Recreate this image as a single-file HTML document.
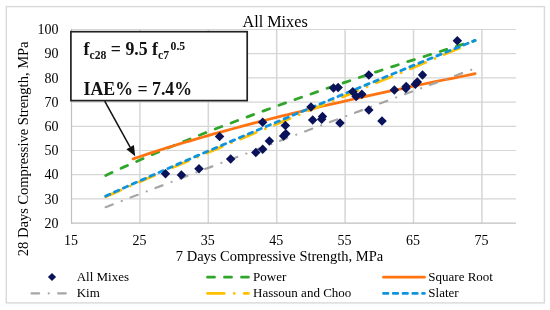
<!DOCTYPE html>
<html><head><meta charset="utf-8"><title>All Mixes</title>
<style>
html,body{margin:0;padding:0;background:#fff;}
body{width:550px;height:310px;overflow:hidden;}
svg{display:block;font-family:"Liberation Serif","Times New Roman",serif;}
</style></head><body>
<svg width="550" height="310" viewBox="0 0 550 310">
<rect x="0" y="0" width="550" height="310" fill="#ffffff"/>
<rect x="6.3" y="6.6" width="538.1" height="296.3" fill="#ffffff" stroke="#d9d9d9" stroke-width="1.4"/>

<g stroke="#d6d6d6" stroke-width="1.2" fill="none">
<line x1="71.5" y1="198.9" x2="516.0" y2="198.9"/>
<line x1="71.5" y1="174.7" x2="516.0" y2="174.7"/>
<line x1="71.5" y1="150.5" x2="516.0" y2="150.5"/>
<line x1="71.5" y1="126.3" x2="516.0" y2="126.3"/>
<line x1="71.5" y1="102.1" x2="516.0" y2="102.1"/>
<line x1="71.5" y1="77.9" x2="516.0" y2="77.9"/>
<line x1="71.5" y1="53.7" x2="516.0" y2="53.7"/>
<line x1="71.5" y1="29.5" x2="516.0" y2="29.5"/>
<line stroke-width="1.5" x1="139.9" y1="29.5" x2="139.9" y2="223.1"/>
<line stroke-width="1.5" x1="208.3" y1="29.5" x2="208.3" y2="223.1"/>
<line stroke-width="1.5" x1="276.7" y1="29.5" x2="276.7" y2="223.1"/>
<line stroke-width="1.5" x1="345.1" y1="29.5" x2="345.1" y2="223.1"/>
<line stroke-width="1.5" x1="413.5" y1="29.5" x2="413.5" y2="223.1"/>
<line stroke-width="1.5" x1="481.9" y1="29.5" x2="481.9" y2="223.1"/>
</g>
<g stroke="#bfbfbf" stroke-width="1.2" fill="none">
<line x1="71.5" y1="223.1" x2="516.0" y2="223.1"/>
<line x1="71.5" y1="28.9" x2="71.5" y2="223.7"/>
</g>
<g font-size="14.5px" fill="#000">
<text x="58.5" y="227.7" text-anchor="end" font-size="14px">20</text>
<text x="58.5" y="203.5" text-anchor="end" font-size="14px">30</text>
<text x="58.5" y="179.3" text-anchor="end" font-size="14px">40</text>
<text x="58.5" y="155.1" text-anchor="end" font-size="14px">50</text>
<text x="58.5" y="130.9" text-anchor="end" font-size="14px">60</text>
<text x="58.5" y="106.7" text-anchor="end" font-size="14px">70</text>
<text x="58.5" y="82.5" text-anchor="end" font-size="14px">80</text>
<text x="58.5" y="58.3" text-anchor="end" font-size="14px">90</text>
<text x="58.5" y="34.1" text-anchor="end" font-size="14px">100</text>
<text x="71.0" y="244.7" text-anchor="middle" font-size="14px">15</text>
<text x="139.4" y="244.7" text-anchor="middle" font-size="14px">25</text>
<text x="207.8" y="244.7" text-anchor="middle" font-size="14px">35</text>
<text x="276.2" y="244.7" text-anchor="middle" font-size="14px">45</text>
<text x="344.6" y="244.7" text-anchor="middle" font-size="14px">55</text>
<text x="413.0" y="244.7" text-anchor="middle" font-size="14px">65</text>
<text x="481.4" y="244.7" text-anchor="middle" font-size="14px">75</text>
<text x="279.5" y="261.3" text-anchor="middle">7 Days Compressive Strength, MPa</text>
<text transform="translate(28.2,148.8) rotate(-90)" text-anchor="middle">28 Days Compressive Strength, MPa</text>
</g>
<text x="275.1" y="26.8" font-size="16.2px" text-anchor="middle" fill="#000">All Mixes</text>
<g fill="none" stroke-width="2.8" stroke-linejoin="round" stroke-linecap="round">
<polyline stroke="#2fa62a" stroke-dasharray="7.0 10.0" points="105.7,175.5 111.9,172.6 118.0,169.7 124.2,166.9 130.3,164.2 136.5,161.5 142.6,158.8 148.8,156.1 154.9,153.5 161.1,150.9 167.3,148.3 173.4,145.7 179.6,143.2 185.7,140.7 191.9,138.2 198.0,135.8 204.2,133.3 210.4,130.9 216.5,128.5 222.7,126.2 228.8,123.8 235.0,121.5 241.1,119.2 247.3,116.9 253.4,114.6 259.6,112.3 265.8,110.1 271.9,107.8 278.1,105.6 284.2,103.4 290.4,101.2 296.5,99.0 302.7,96.9 308.8,94.7 315.0,92.6 321.2,90.4 327.3,88.3 333.5,86.2 339.6,84.1 345.8,82.1 351.9,80.0 358.1,77.9 364.3,75.9 370.4,73.8 376.6,71.8 382.7,69.8 388.9,67.8 395.0,65.8 401.2,63.8 407.3,61.8 413.5,59.9 419.7,57.9 425.8,56.0 432.0,54.0 438.1,52.1 444.3,50.2 450.4,48.2 456.6,46.3 462.7,44.4 468.9,42.5 475.1,40.7"/>
<polyline stroke="#ff7410" points="133.1,158.9 138.8,157.0 144.5,155.1 150.2,153.2 155.9,151.3 161.6,149.5 167.3,147.7 173.0,146.0 178.7,144.2 184.4,142.5 190.1,140.8 195.8,139.1 201.5,137.5 207.2,135.8 212.9,134.2 218.6,132.6 224.3,131.1 230.0,129.5 235.7,128.0 241.4,126.4 247.1,124.9 252.8,123.4 258.5,121.9 264.2,120.5 269.9,119.0 275.6,117.6 281.3,116.2 287.0,114.8 292.7,113.4 298.4,112.0 304.1,110.6 309.8,109.2 315.5,107.9 321.2,106.5 326.9,105.2 332.6,103.9 338.3,102.6 344.0,101.3 349.7,100.0 355.4,98.7 361.1,97.4 366.8,96.2 372.5,94.9 378.2,93.7 383.9,92.4 389.6,91.2 395.3,90.0 401.0,88.8 406.7,87.6 412.4,86.4 418.1,85.2 423.8,84.0 429.5,82.9 435.2,81.7 440.9,80.5 446.6,79.4 452.3,78.3 458.0,77.1 463.7,76.0 469.4,74.9 475.1,73.7"/>
<polyline stroke="#a6a6a6" stroke-width="2.2" stroke-dasharray="7.6 9.65 0.01 9.4" points="105.7,207.2 111.9,204.8 118.0,202.4 124.2,200.1 130.3,197.7 136.5,195.3 142.6,193.0 148.8,190.6 154.9,188.3 161.1,185.9 167.3,183.6 173.4,181.2 179.6,178.9 185.7,176.5 191.9,174.2 198.0,171.8 204.2,169.5 210.4,167.1 216.5,164.8 222.7,162.5 228.8,160.1 235.0,157.8 241.1,155.5 247.3,153.2 253.4,150.8 259.6,148.5 265.8,146.2 271.9,143.9 278.1,141.5 284.2,139.2 290.4,136.9 296.5,134.6 302.7,132.3 308.8,130.0 315.0,127.7 321.2,125.4 327.3,123.1 333.5,120.8 339.6,118.5 345.8,116.2 351.9,113.9 358.1,111.6 364.3,109.3 370.4,107.0 376.6,104.7 382.7,102.5 388.9,100.2 395.0,97.9 401.2,95.6 407.3,93.3 413.5,91.1 419.7,88.8 425.8,86.5 432.0,84.3 438.1,82.0 444.3,79.7 450.4,77.5 456.6,75.2 462.7,72.9 468.9,70.7 475.1,68.4"/>
<polyline stroke="#ffc000" stroke-dasharray="16.7 10 0.01 10" points="105.7,196.8 111.7,194.1 117.8,191.5 123.8,188.8 129.8,186.2 135.9,183.5 141.9,180.9 147.9,178.3 153.9,175.7 160.0,173.1 166.0,170.5 172.0,167.9 178.1,165.3 184.1,162.7 190.1,160.2 196.2,157.6 202.2,155.1 208.2,152.5 214.3,150.0 220.3,147.4 226.3,144.9 232.3,142.4 238.4,139.9 244.4,137.4 250.4,134.9 256.5,132.3 262.5,129.8 268.5,127.4 274.6,124.9 280.6,122.4 286.6,119.9 292.6,117.4 298.7,114.9 304.7,112.4 310.7,109.9 316.8,107.4 322.8,105.0 328.8,102.5 334.9,100.0 340.9,97.6 346.9,95.1 353.0,92.6 359.0,90.1 365.0,87.6 371.0,85.1 377.1,82.5 383.1,80.0 389.1,77.6 395.2,75.1 401.2,72.6 407.2,70.1 413.3,67.6 419.3,65.0 425.3,62.5 431.4,59.9 437.4,57.4 443.4,54.8 449.4,52.3 455.5,49.8 461.5,47.3 467.5,44.8"/>
<polyline stroke="#0f93dc" stroke-dasharray="4.5 5.22" points="105.7,196.1 111.9,193.3 118.0,190.5 124.2,187.8 130.3,185.0 136.5,182.3 142.6,179.6 148.8,176.9 154.9,174.2 161.1,171.5 167.3,168.8 173.4,166.1 179.6,163.4 185.7,160.8 191.9,158.1 198.0,155.4 204.2,152.8 210.4,150.2 216.5,147.5 222.7,144.9 228.8,142.3 235.0,139.7 241.1,137.0 247.3,134.4 253.4,131.8 259.6,129.2 265.8,126.6 271.9,124.0 278.1,121.5 284.2,118.9 290.4,116.3 296.5,113.7 302.7,111.2 308.8,108.6 315.0,106.0 321.2,103.5 327.3,100.9 333.5,98.4 339.6,95.8 345.8,93.3 351.9,90.7 358.1,88.2 364.3,85.6 370.4,83.1 376.6,80.6 382.7,78.0 388.9,75.5 395.0,73.0 401.2,70.5 407.3,67.9 413.5,65.4 419.7,62.9 425.8,60.4 432.0,57.9 438.1,55.4 444.3,52.9 450.4,50.4 456.6,47.9 462.7,45.4 468.9,42.9 475.1,40.4"/>
</g>
<g fill="#0a1259">
<path d="M165.5 168.9L170.2 173.7L165.5 178.4L160.8 173.7Z"/>
<path d="M181.4 170.2L186.2 175.0L181.4 179.8L176.7 175.0Z"/>
<path d="M199.0 164.1L203.8 168.8L199.0 173.6L194.2 168.8Z"/>
<path d="M219.6 131.8L224.3 136.5L219.6 141.2L214.8 136.5Z"/>
<path d="M230.7 154.2L235.4 159.0L230.7 163.8L225.9 159.0Z"/>
<path d="M255.8 147.8L260.6 152.6L255.8 157.3L251.1 152.6Z"/>
<path d="M262.7 144.6L267.4 149.3L262.7 154.1L257.9 149.3Z"/>
<path d="M269.4 136.2L274.1 141.0L269.4 145.8L264.6 141.0Z"/>
<path d="M262.7 117.5L267.4 122.2L262.7 127.0L257.9 122.2Z"/>
<path d="M283.6 131.2L288.4 135.9L283.6 140.7L278.9 135.9Z"/>
<path d="M285.9 129.1L290.6 133.8L285.9 138.6L281.1 133.8Z"/>
<path d="M285.4 120.8L290.1 125.6L285.4 130.3L280.6 125.6Z"/>
<path d="M311.0 102.2L315.8 107.0L311.0 111.8L306.2 107.0Z"/>
<path d="M312.7 115.2L317.4 119.9L312.7 124.7L307.9 119.9Z"/>
<path d="M321.7 114.5L326.4 119.3L321.7 124.0L316.9 119.3Z"/>
<path d="M322.5 111.8L327.2 116.5L322.5 121.2L317.8 116.5Z"/>
<path d="M340.0 118.2L344.8 123.0L340.0 127.8L335.2 123.0Z"/>
<path d="M333.5 83.2L338.2 87.9L333.5 92.7L328.8 87.9Z"/>
<path d="M338.1 82.7L342.9 87.4L338.1 92.2L333.4 87.4Z"/>
<path d="M352.8 87.0L357.6 91.8L352.8 96.5L348.1 91.8Z"/>
<path d="M356.2 91.7L360.9 96.4L356.2 101.2L351.4 96.4Z"/>
<path d="M361.9 89.5L366.6 94.3L361.9 99.0L357.1 94.3Z"/>
<path d="M368.8 70.2L373.6 75.0L368.8 79.8L364.1 75.0Z"/>
<path d="M368.8 105.2L373.6 110.0L368.8 114.8L364.1 110.0Z"/>
<path d="M382.0 116.2L386.8 120.9L382.0 125.7L377.2 120.9Z"/>
<path d="M394.4 85.2L399.1 89.9L394.4 94.7L389.6 89.9Z"/>
<path d="M406.2 81.7L410.9 86.4L406.2 91.2L401.4 86.4Z"/>
<path d="M405.8 83.7L410.6 88.4L405.8 93.2L401.1 88.4Z"/>
<path d="M415.4 79.5L420.1 84.3L415.4 89.0L410.6 84.3Z"/>
<path d="M417.3 77.2L422.1 82.0L417.3 86.8L412.6 82.0Z"/>
<path d="M422.5 70.3L427.2 75.1L422.5 79.8L417.8 75.1Z"/>
<path d="M457.3 36.0L462.1 40.8L457.3 45.5L452.6 40.8Z"/>
</g>
<rect x="70.9" y="31.7" width="176.3" height="68.9" fill="#fff" stroke="#222" stroke-width="1.7"/>
<g font-weight="bold" font-size="17.8px" fill="#111">
<text x="83.6" y="55.2">f<tspan font-size="11.7px" dy="3.5">c28</tspan><tspan dy="-3.5"> = 9.5 f</tspan><tspan font-size="11.7px" dy="3.5">c7</tspan><tspan font-size="11.7px" dy="-9.2" dx="1.5">0.5</tspan></text>
<text x="83.6" y="95.2">IAE% = 7.4%</text>
</g>
<line x1="104.7" y1="101.2" x2="130.1" y2="147.1" stroke="#111" stroke-width="1.5"/>
<path d="M135.2 156.3L126.4 149.2L133.9 145.0Z" fill="#111"/>
<g font-size="13px" fill="#000">
<path d="M52 272.9L56.1 277L52 281.1L47.9 277Z" fill="#0a1259"/>
<text x="76.7" y="280.9">All Mixes</text>
<text x="76.7" y="297">Kim</text>
<text x="253.1" y="280.9">Power</text>
<text x="253.1" y="297">Hassoun and Choo</text>
<text x="428.3" y="280.9">Square Root</text>
<text x="428.3" y="297">Slater</text>
</g>
<g fill="none" stroke-width="2.8" stroke-linecap="round">
<line x1="31.5" y1="293.45" x2="73.4" y2="293.45" stroke="#a6a6a6" stroke-width="2.2" stroke-dasharray="7.6 9.65 0.01 9.4"/>
<line x1="207.5" y1="277.2" x2="248.4" y2="277.2" stroke="#2fa62a" stroke-dasharray="7.0 10.0"/>
<line x1="207.5" y1="293.45" x2="248.4" y2="293.45" stroke="#ffc000" stroke-dasharray="16.7 10 0.01 10"/>
<line x1="383.5" y1="277.2" x2="424.4" y2="277.2" stroke="#ff7410"/>
<line x1="383.5" y1="293.45" x2="424.4" y2="293.45" stroke="#0f93dc" stroke-dasharray="4.5 5.26"/>
</g>
</svg></body></html>
